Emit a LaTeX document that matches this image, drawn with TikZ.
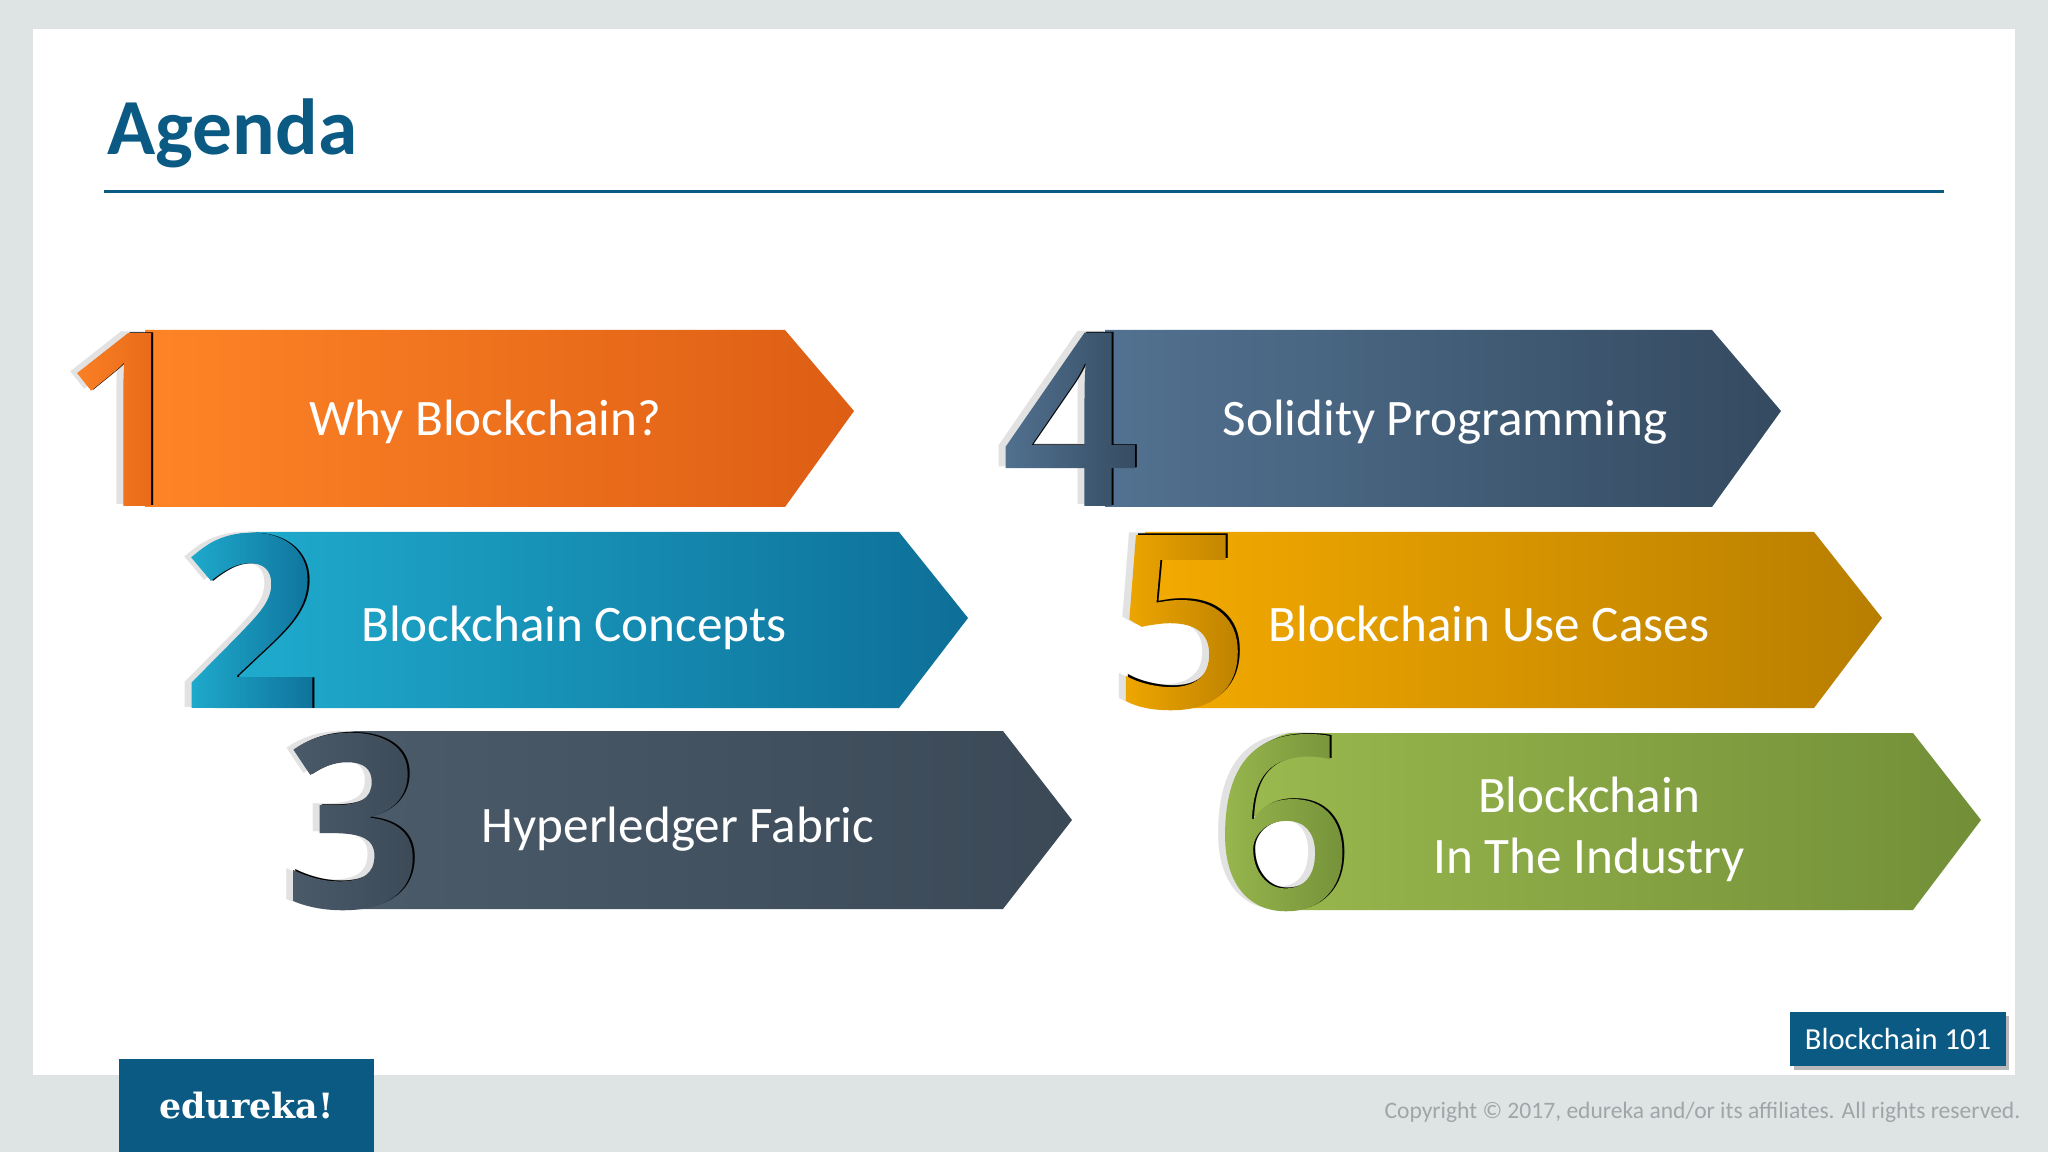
\documentclass[tikz,border=0pt]{standalone}
\usepackage{fontspec}
\usetikzlibrary{shadows}
\setmainfont{Carlito}
\newfontfamily\digitfont{Open Sans}
\newfontfamily\digitsemi{Open Sans Semibold}
\newfontfamily\logofont{DejaVu Serif}
\definecolor{slide}{HTML}{DEE3E3}
\definecolor{edublue}{HTML}{0B5A84}
\definecolor{copygray}{HTML}{A0A6A8}
\definecolor{numshadow}{HTML}{E2E2E2}
\definecolor{orangeL}{HTML}{FF8426}
\definecolor{orangeD}{HTML}{DD5E14}
\definecolor{tealL}{HTML}{1FADCF}
\definecolor{tealD}{HTML}{0E6F98}
\definecolor{slateL}{HTML}{4B5B69}
\definecolor{slateD}{HTML}{3B4957}
\definecolor{steelL}{HTML}{527291}
\definecolor{steelD}{HTML}{344A60}
\definecolor{amberL}{HTML}{F4AA00}
\definecolor{amberD}{HTML}{B87E00}
\definecolor{greenL}{HTML}{9AB94E}
\definecolor{greenD}{HTML}{728F38}
\newcommand{\gradnum}[3]{%
	\special{pdf:code q 7 Tr}\rlap{#1}\special{pdf:code 0 Tr}%
	\rlap{\raisebox{-10pt}{\tikz\shade[left color=#2,right color=#3] (0pt,0pt) rectangle (40pt,70pt);}}%
	\special{pdf:code Q}\phantom{#1}}
\newcommand{\numback}[4]{\node[#1,text=numshadow] (back#2) at (#3-6,#4) {#2};}
\newcommand{\numfront}[6]{%
	\node[#1,text=black] (edge#2) at (#3+2.5,#4+1) {#2};
	\node[#1] (num#2) at (#3,#4) {\gradnum{#2}{#5}{#6}};
}
\tikzset{
	numbold/.style={font=\digitfont\bfseries\fontsize{68.8}{80}\selectfont},
	numsemi/.style={font=\digitsemi\fontsize{68.8}{80}\selectfont},
	lbl/.style={text=white,align=center,font=\fontsize{14.55}{17.3}\selectfont},
	lblbase/.style={lbl,anchor=base},
}
\begin{document}
\begin{tikzpicture}[x=0.01cm,y=-0.01cm]
			\useasboundingbox (0,0) rectangle (2048,1152);
			\fill[slide] (0,0) rectangle (2048,1152);
			\fill[white] (33,29) rectangle (2015,1075);
			\node[anchor=base west,inner sep=0pt,text=edublue,font=\fontsize{22.6}{27}\bfseries\selectfont] (title) at (107,155) {Agenda};
			\coordinate (ruleL) at (104,192);
			\coordinate (ruleR) at (1944,192);
			\draw[edublue,line width=3pt*0.2845] (ruleL) -- (ruleR);
			% left column
			\numback{numsemi}{1}{128}{418}
			\numback{numbold}{2}{251}{620}
			\numback{numbold}{3}{353}{820}
			\shade[left color=orangeL,right color=orangeD] (145,330) -- (785,330) -- (854,411) -- (785,507) -- (145,507) -- cycle;
			\shade[left color=tealL,right color=tealD] (248,532) .. controls (280,532) and (292,560) .. (290,580) .. controls (285,610) and (240,640) .. (222,665) -- (215,708) -- (899,708) -- (968,618) -- (899,532) -- cycle;
			\shade[left color=slateL,right color=slateD] (345,731) .. controls (380,731) and (392,760) .. (388,785) .. controls (385,805) and (365,812) .. (362,820) .. controls (385,825) and (397,845) .. (395,865) .. controls (390,895) and (365,909) .. (345,909) -- (1003,909) -- (1072,820) -- (1003,731) -- cycle;
			\numfront{numsemi}{1}{128}{418}{orangeL}{orangeD}
			\numfront{numbold}{2}{251}{620}{tealL}{tealD}
			\numfront{numbold}{3}{353}{820}{slateL}{slateD}
			\node[lblbase] (why) at (485,436) {Why Blockchain?};
			\node[lblbase] (concepts) at (574,641) {Blockchain Concepts};
			\node[lblbase] (fabric) at (678,842) {Hyperledger Fabric};
			% right column
			\numback{numsemi}{4}{1070}{418}
			\numback{numsemi}{5}{1181}{620}
			\numback{numsemi}{6}{1283}{821}
			\shade[left color=steelL,right color=steelD] (1105,330) -- (1712,330) -- (1781,411) -- (1712,507) -- (1105,507) -- cycle;
			\shade[left color=amberL,right color=amberD] (1145,532) -- (1145,615) .. controls (1200,610) and (1225,630) .. (1222,655) .. controls (1220,690) and (1190,708) .. (1165,708) -- (1814,708) -- (1882,618) -- (1814,532) -- cycle;
			\shade[left color=greenL,right color=greenD] (1290,733) .. controls (1255,740) and (1238,780) .. (1240,820) .. controls (1260,812) and (1320,805) .. (1326,860) .. controls (1328,890) and (1310,910) .. (1280,910) -- (1913,910) -- (1981,820) -- (1913,733) -- cycle;
			\numfront{numsemi}{4}{1070}{418}{steelL}{steelD}
			\numfront{numsemi}{5}{1181}{620}{amberL}{amberD}
			\numfront{numsemi}{6}{1283}{821}{greenL}{greenD}
			\node[lblbase] (solidity) at (1445,436) {Solidity Programming};
			\node[lblbase] (usecases) at (1489,641) {Blockchain Use Cases};
			\node[lbl] (industry) at (1589,829) {Blockchain\\In The Industry};
			% footer
			\node[fill=edublue,minimum width=255*0.2845pt,minimum height=93*0.2845pt,inner sep=0pt] (logobox) at (246.5,1105.5) {};
			\node[text=white,font=\logofont\bfseries\fontsize{9.9}{12}\selectfont] (logo) at (logobox) {edureka!};
			\node[fill=edublue,text=white,minimum width=215*0.2845pt,minimum height=54*0.2845pt,inner sep=0pt,font=\fontsize{8.7}{10}\selectfont,drop shadow={shadow xshift=1pt,shadow yshift=-1pt,opacity=0.55}] (course) at (1898,1039) {Blockchain 101};
			\node[anchor=east,inner sep=0pt,text=copygray,font=\fontsize{6.7}{8}\selectfont] (copy) at (2021,1112) {Copyright © 2017, edureka and/or its affiliates. All rights reserved.};
		\end{tikzpicture}
\end{document}
